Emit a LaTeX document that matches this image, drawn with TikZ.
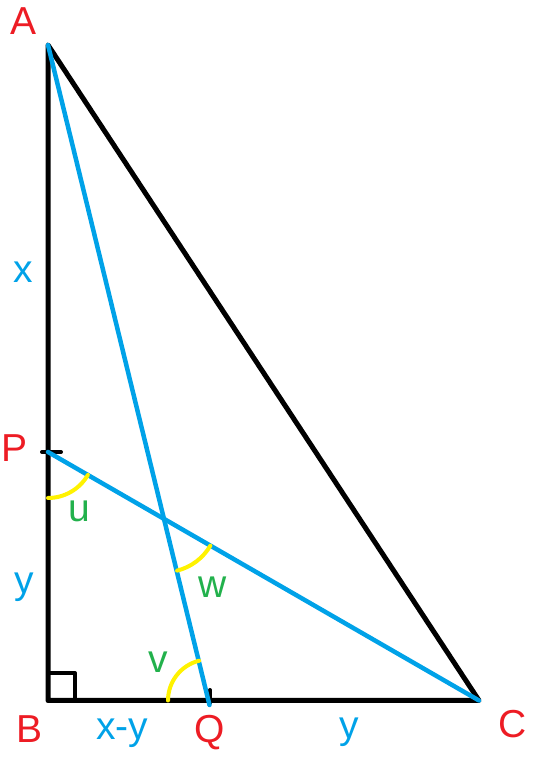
\documentclass[tikz,border=0pt]{standalone}
\usepackage{fontspec}
\setmainfont{Liberation Sans}
\usetikzlibrary{calc,angles}
\definecolor{pred}{RGB}{237,28,36}
\definecolor{pblue}{RGB}{0,162,232}
\definecolor{pgreen}{RGB}{34,177,76}
\definecolor{pyellow}{RGB}{255,242,0}
\begin{document}
\begin{tikzpicture}[x=1pt,y=1pt,
  blk/.style={line width=5pt,black,line cap=round,line join=round},
  blu/.style={line width=4.5pt,pblue,line cap=round},
  ylw/.style={line width=4pt,pyellow,line cap=round},
  vtx/.style={text=pred,font=\fontsize{39}{39}\selectfont,anchor=base,inner sep=0pt},
  len/.style={text=pblue,font=\fontsize{39}{39}\selectfont,anchor=base,inner sep=0pt},
  ang/.style={text=pgreen,font=\fontsize{39}{39}\selectfont,anchor=base,inner sep=0pt}]
\useasboundingbox (0,0) rectangle (551,767);
\coordinate (A) at (48,722);
\coordinate (B) at (48,66.5);
\coordinate (C) at (479,66.5);
\coordinate (P) at (48,315);
\coordinate (Q) at (209,66.5);
\coordinate (Qe) at (209.5,62);
\coordinate (O) at (intersection of A--Q and P--C);
% triangle
\draw[blk] (A) -- (B) -- (C) -- cycle;
% right angle mark
\coordinate (R1) at (48,94);
\coordinate (R2) at (75,94);
\coordinate (R3) at (75,66.5);
\draw[blk,line width=4pt] (R1) -- (R2) -- (R3);
% ticks
\coordinate (TP1) at (42,315);
\coordinate (TP2) at (61,315);
\draw[blk,line width=4pt] (TP1) -- (TP2);
\coordinate (TQ1) at (210,77);
\coordinate (TQ2) at (210,64);
\draw[blk,line width=4pt] (TQ1) -- (TQ2);
% blue cevians
\draw[blu] (A) -- (Qe);
\draw[blu] (P) -- (C);
% angle arcs
\pic[draw=pyellow,line width=4pt,line cap=round,angle radius=46pt] {angle = B--P--C};
\pic[draw=pyellow,line width=4pt,line cap=round,angle radius=53pt] {angle = Q--O--C};
\pic[draw=pyellow,line width=4pt,line cap=round,angle radius=41pt] {angle = A--Q--B};
% vertex labels
\node[vtx] (lA) at (23.5,732) {A};
\node[vtx] (lP) at (14.5,305) {P};
\node[vtx] (lB) at (30,24) {B};
\node[vtx] (lQ) at (210,24) {Q};
\node[vtx] (lC) at (513,29) {C};
% length labels
\node[len] (lx) at (23,484) {x};
\node[len] (ly1) at (24,173) {y};
\node[len] (lxy) at (122,27) {x-y};
\node[len] (ly2) at (349,28) {y};
% angle labels
\node[ang] (lu) at (79,245) {u};
\node[ang] (lw) at (213,169) {w};
\node[ang] (lv) at (158,94) {v};
\end{tikzpicture}
\end{document}
